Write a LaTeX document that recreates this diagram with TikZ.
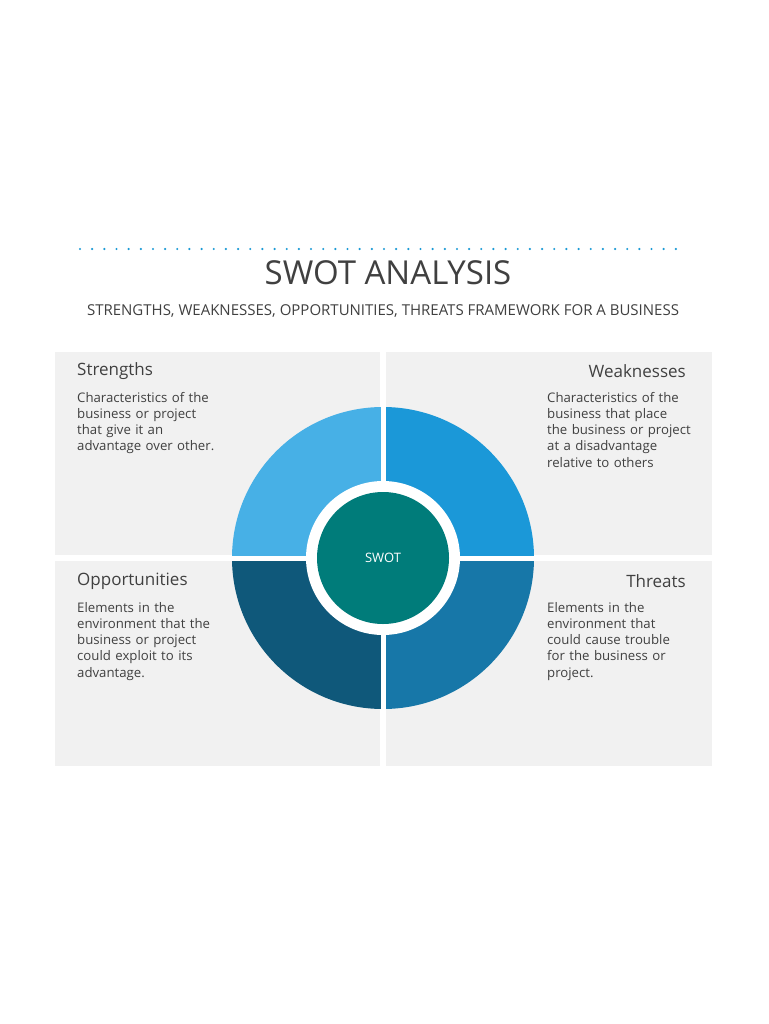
\documentclass[tikz,border=0pt]{standalone}
\usepackage{fontspec}
\setmainfont{Open Sans}
\definecolor{bg}{HTML}{F1F1F1}
\definecolor{cS}{HTML}{47B0E6}
\definecolor{cW}{HTML}{1B98D8}
\definecolor{cO}{HTML}{0F587A}
\definecolor{cT}{HTML}{1777A8}
\definecolor{teal}{HTML}{007C7A}
\definecolor{dot}{HTML}{1A9AD6}
\definecolor{txt}{HTML}{404040}
\tikzset{
 head/.style={font=\fontsize{17}{19}\selectfont,text=txt,inner sep=0},
 body/.style={font=\fontsize{13.2}{16.2}\selectfont,text=txt,inner sep=0,text width=148pt,align=left},
}
\begin{document}
\begin{tikzpicture}[x=1pt,y=-1pt]
\useasboundingbox (0,0) rectangle (768,1024);
\fill[white] (0,0) rectangle (768,1024);
\foreach \i in {0,...,49} \fill[dot] (80+\i*12.16,249) circle (1.2);
\node[font=\fontsize{33}{38}\selectfont,text=txt] (title) at (388,273) {SWOT ANALYSIS};
\node[font=\fontsize{15}{18}\selectfont,text=txt] (sub) at (383,311) {STRENGTHS, WEAKNESSES, OPPORTUNITIES, THREATS FRAMEWORK FOR A BUSINESS};
\fill[bg] (55,352) rectangle (380,555);
\fill[bg] (386,352) rectangle (712,555);
\fill[bg] (55,561) rectangle (380,766);
\fill[bg] (386,561) rectangle (712,766);
% ring (y axis flipped: 90 = down, 270 = up)
\fill[cS] (383,558) -- (232,558) arc[start angle=180,end angle=270,radius=151] -- cycle;
\fill[cW] (383,558) -- (383,407) arc[start angle=270,end angle=360,radius=151] -- cycle;
\fill[cT] (383,558) -- (534,558) arc[start angle=0,end angle=90,radius=151] -- cycle;
\fill[cO] (383,558) -- (383,709) arc[start angle=90,end angle=180,radius=151] -- cycle;
\fill[white] (380.5,400) rectangle (385.5,716);
\fill[white] (225,555.5) rectangle (541,560.5);
\fill[white] (383,558) circle (77);
\node[circle,fill=teal,minimum size=132pt,text=white,font=\fontsize{13}{15}\selectfont] (swot) at (383,558) {SWOT};
\node[head,anchor=west] (s) at (77,371) {Strengths};
\node[body,anchor=north west] (sb) at (77,392) {Characteristics of the\\business or project\\that give it an\\advantage over other.};
\node[head,anchor=east] (w) at (686,371) {Weaknesses};
\node[body,anchor=north west] (wb) at (547,392) {Characteristics of the\\business that place\\the business or project\\at a disadvantage\\relative to others};
\node[head,anchor=west] (o) at (77,581) {Opportunities};
\node[body,anchor=north west] (ob) at (77,602) {Elements in the\\environment that the\\business or project\\could exploit to its\\advantage.};
\node[head,anchor=east] (t) at (686,581) {Threats};
\node[body,anchor=north west] (tb) at (547,602) {Elements in the\\environment that\\could cause trouble\\for the business or\\project.};
\end{tikzpicture}
\end{document}
